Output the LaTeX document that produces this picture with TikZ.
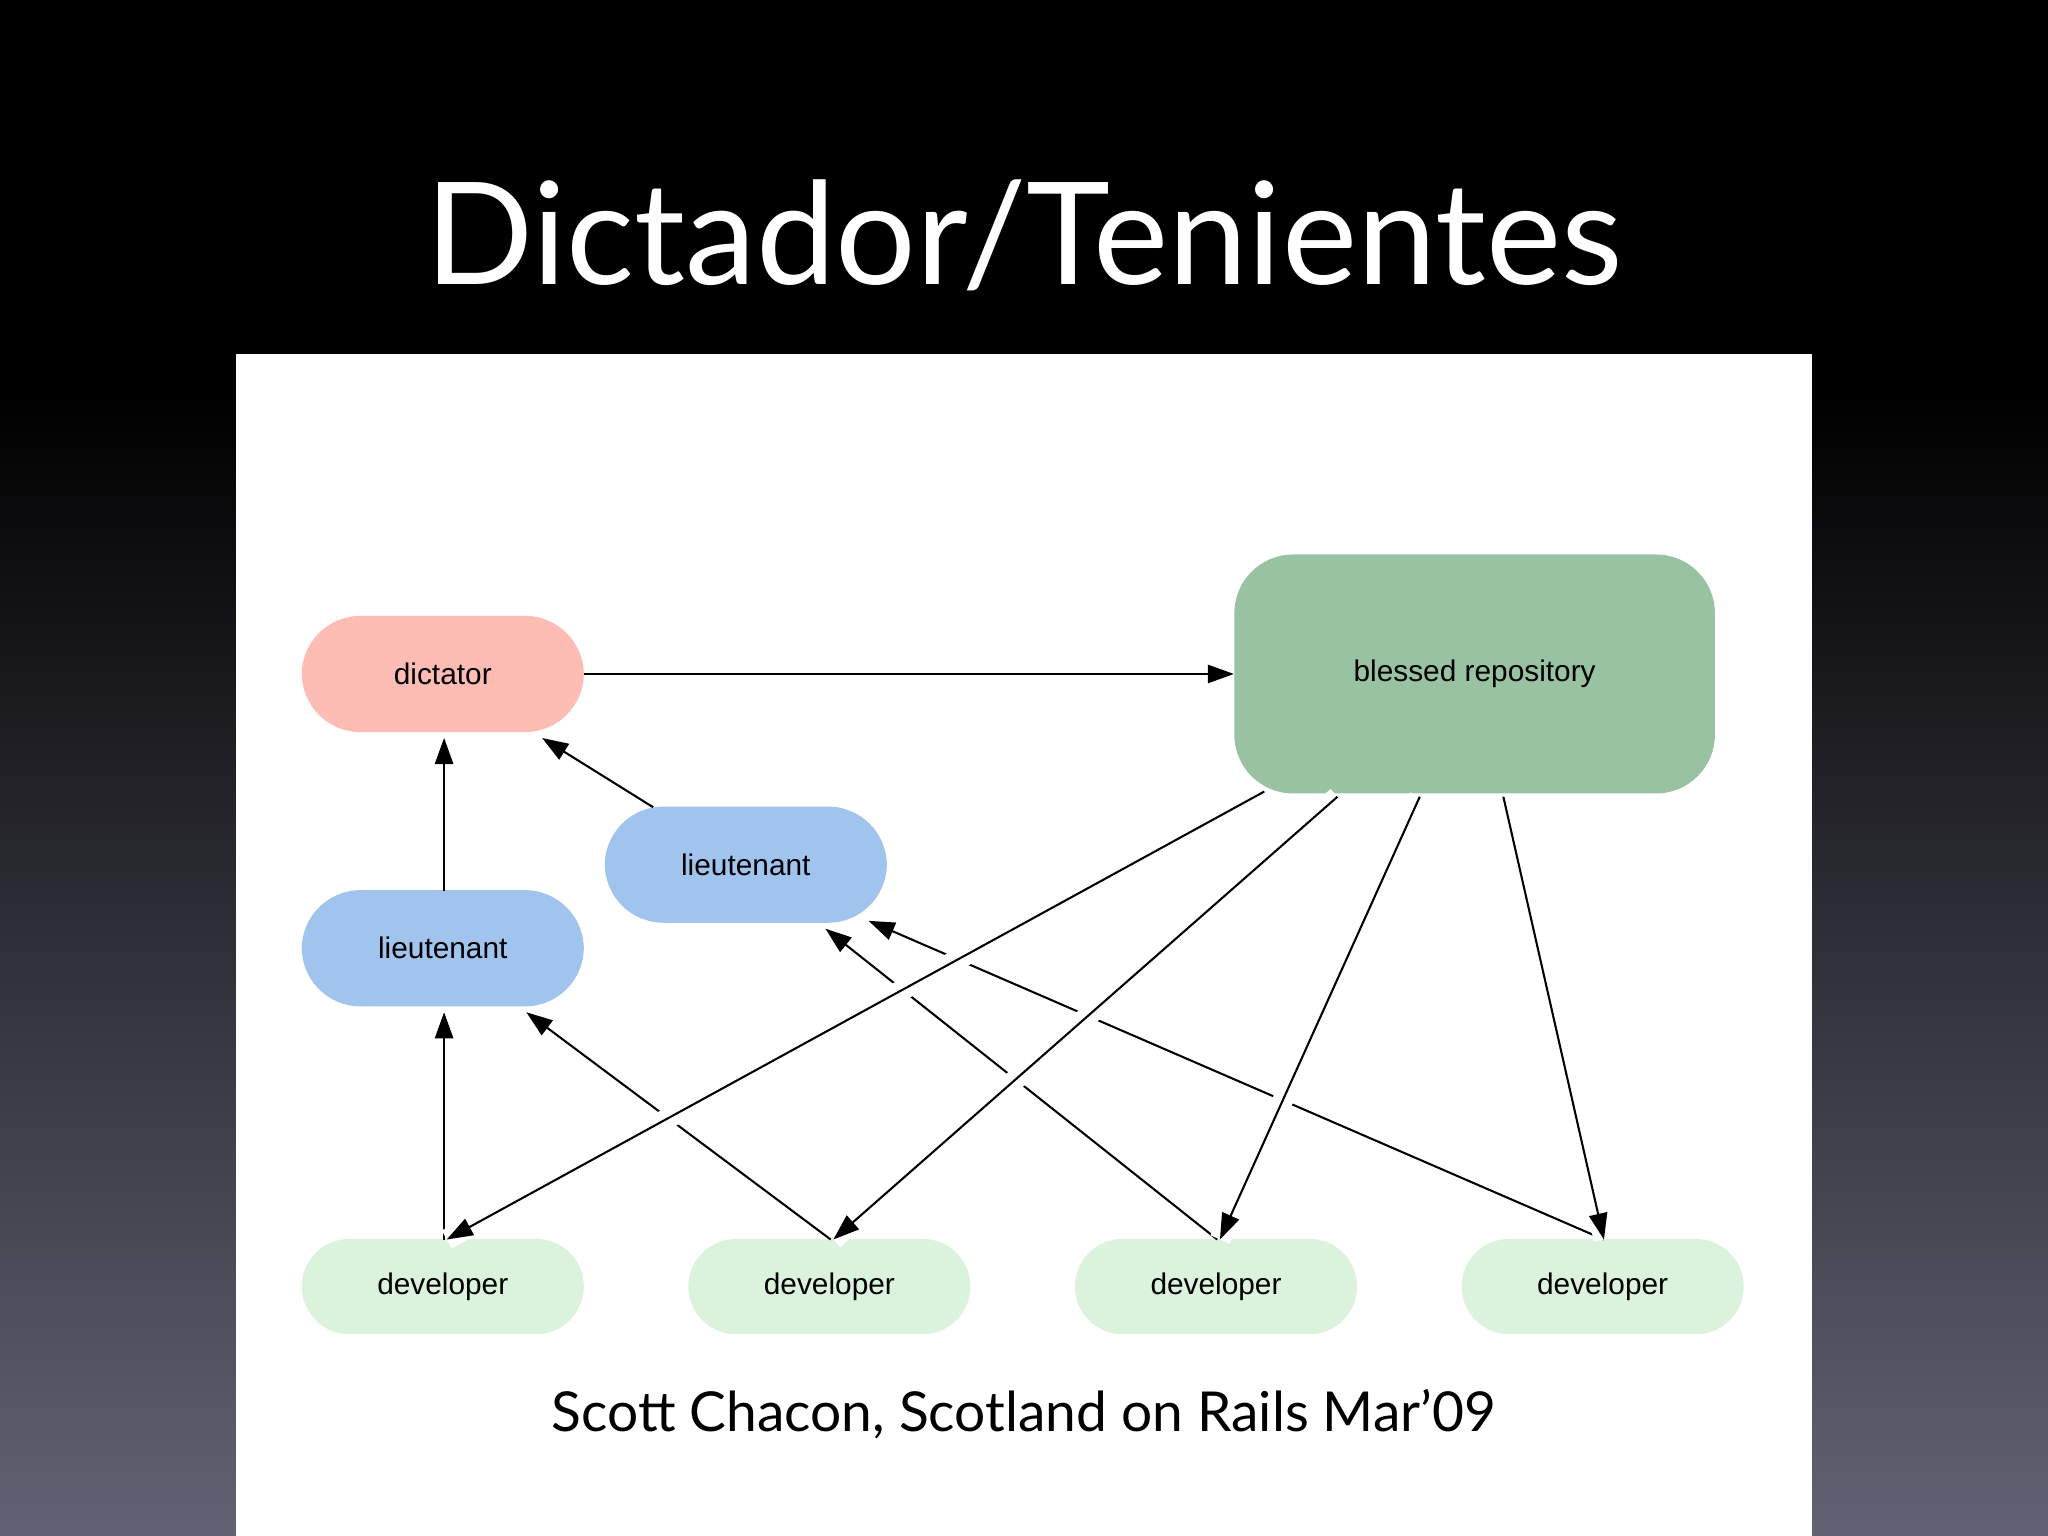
\documentclass[tikz,border=0pt]{standalone}
\usepackage{fontspec}
\setmainfont{Liberation Sans}
\newfontfamily\titlefont{Lato}
\usetikzlibrary{arrows.meta}
\definecolor{bgbot}{RGB}{98,98,116}
\definecolor{cdict}{RGB}{253,188,180}
\definecolor{cbless}{RGB}{153,194,162}
\definecolor{clieu}{RGB}{160,196,238}
\definecolor{cdev}{RGB}{219,242,221}
\tikzset{
 box/.style={rounded corners=0.9cm, minimum width=4.32cm, minimum height=1.78cm, inner sep=0pt, font=\fontsize{13pt}{15pt}\selectfont},
 arr/.style={draw=black, line width=0.9pt, -{Triangle[length=0.4cm,width=0.28cm]}},
 over/.style={arr, preaction={draw=white, line width=9pt, -}}
}
\begin{document}
\begin{tikzpicture}[x=0.02cm,y=-0.02cm]
\useasboundingbox (0,0) rectangle (1568,1176);
\fill[black] (0,0) rectangle (1568,300);
\shade[top color=black, bottom color=bgbot] (0,300) rectangle (1568,1176);
\fill[white] (181,271) rectangle (1387,1176);
\node[white, font=\titlefont\fontsize{62pt}{70pt}\selectfont] (title) at (784,180) {Dictador/Tenientes};
\node[box, fill=cdict] (dict) at (339,516) {dictator};
\node[box, fill=cbless, minimum width=7.36cm, minimum height=3.66cm] (bless) at (1129,516) {blessed repository};
\node[box, fill=clieu] (lt1) at (571,662) {lieutenant};
\node[box, fill=clieu] (lt2) at (339,726) {lieutenant};
\node[box, fill=cdev, minimum height=1.46cm, rounded corners=0.73cm] (d1) at (339,985) {developer};
\node[box, fill=cdev, minimum height=1.46cm, rounded corners=0.73cm] (d2) at (635,985) {developer};
\node[box, fill=cdev, minimum height=1.46cm, rounded corners=0.73cm] (d3) at (931,985) {developer};
\node[box, fill=cdev, minimum height=1.46cm, rounded corners=0.73cm] (d4) at (1227,985) {developer};
\node[font=\titlefont\fontsize{24pt}{28pt}\selectfont] (cap) at (784,1083) {Scott Chacon, Scotland on Rails Mar’09};
\coordinate (b1) at (968,606); \coordinate (b2) at (1024,610); \coordinate (b3) at (1087,610); \coordinate (b4) at (1151,610);
\coordinate (t1) at (342,949); \coordinate (t2) at (638,949); \coordinate (t3) at (934,949); \coordinate (t4) at (1228,949);
\coordinate (l1s) at (500,618); \coordinate (dictse) at (415,565);
\coordinate (lt2top) at (340,682); \coordinate (dictb) at (340,565);
\coordinate (d1t) at (340,949); \coordinate (lt2b) at (340,775);
\coordinate (d2t) at (636,949); \coordinate (lt2se) at (403,775);
\coordinate (d3t) at (932,949); \coordinate (lt1b) at (632,711);
\coordinate (d4t) at (1228,949); \coordinate (lt1se) at (665,705);
\draw[arr] (dict.east) -- (bless.west);
\draw[arr] (lt2top) -- (dictb);
\draw[arr] (l1s) -- (dictse);
\draw[arr] (d1t) -- (lt2b);
\draw[arr] (d2t) -- (lt2se);
\draw[arr] (d3t) -- (lt1b);
\draw[arr] (d4t) -- (lt1se);
\draw[over] (b1) -- (t1);
\draw[over] (b2) -- (t2);
\draw[over] (b3) -- (t3);
\draw[over] (b4) -- (t4);
\end{tikzpicture}
\end{document}
